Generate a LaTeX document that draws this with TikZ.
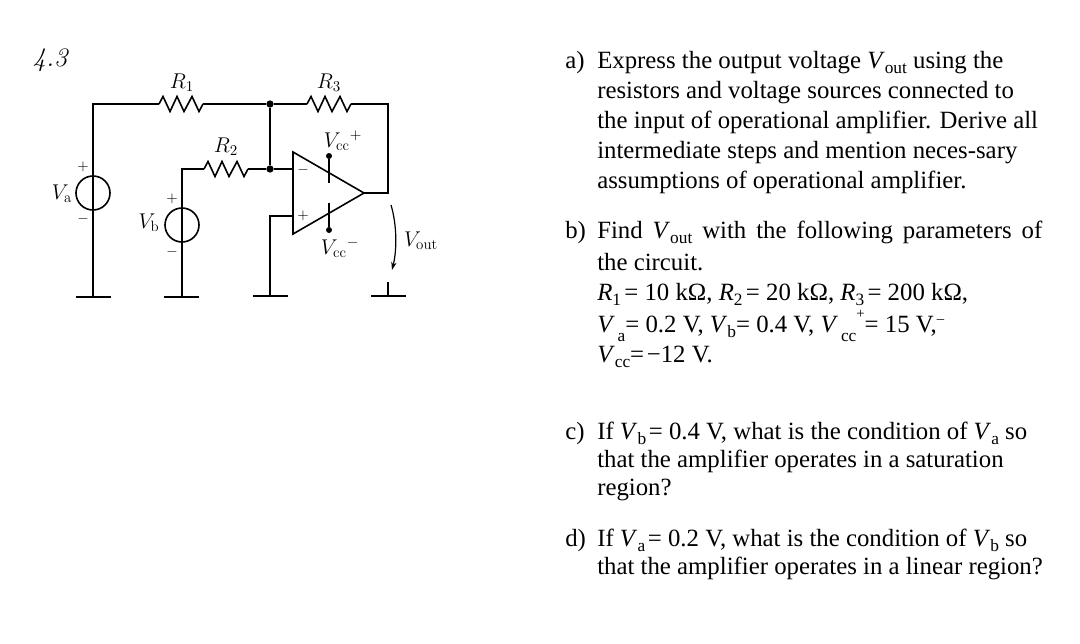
\documentclass[tikz,border=0pt]{standalone}
\usepackage{fix-cm}
\usepackage{fontspec}
\newfontfamily\rtfont{Liberation Serif}
\usetikzlibrary{arrows.meta}
\tikzset{
  x=0.75pt,y=-0.75pt,
  wire/.style={line width=1.2pt,line join=miter},
  lab/.style={inner sep=0pt,font=\fontsize{16}{19}\selectfont},
  small/.style={inner sep=0pt,font=\fontsize{11}{13}\selectfont},
  txt/.style={inner sep=0pt,anchor=base west,font=\rtfont\fontsize{18.6}{22}\selectfont},
  dot/.style={circle,fill=black,inner sep=0pt,minimum size=5.5pt},
  src/.style={circle,draw,line width=1.2pt,inner sep=0pt,minimum size=25.5pt},
  pics/zz/.style={code={\draw[wire] (0,0) -- (4,-7.5) -- (11,7.5) -- (18,-7.5) -- (25,7.5) -- (33,-7.5) -- (40,7.5) -- (44,0);}}
}
\newcommand{\Vs}[1]{\textit{V}\raisebox{-0.22em}{\fontsize{13}{13}\selectfont #1}}
\newcommand{\Rs}[1]{\textit{R}\raisebox{-0.22em}{\fontsize{13}{13}\selectfont #1}\kern2.5pt}
\newcommand{\Vl}[1]{\textit{V}\raisebox{-0.38em}{\fontsize{13}{13}\selectfont\,#1}}
\begin{document}
\begin{tikzpicture}
\useasboundingbox (0,0) rectangle (1080,643);
\fill[white] (0,0) rectangle (1080,643);
\node[inner sep=0pt,font=\itshape\fontsize{20}{22}\selectfont] (title) at (50,60) {4.3};
% junctions and corners
\coordinate (tl) at (93,104);
\coordinate (r1a) at (159,104); \coordinate (r1b) at (203,104);
\node[dot] (j1) at (270,104) {};
\node[dot] (j2) at (270,169) {};
\coordinate (r3a) at (307,104); \coordinate (r3b) at (351,104);
\coordinate (tr) at (388,104); \coordinate (out) at (388,193);
\coordinate (r2a) at (204,169); \coordinate (r2b) at (248,169);
\coordinate (bc) at (182,169);
\coordinate (minus) at (293,169); \coordinate (plus) at (293,216);
\coordinate (pc) at (270,216);
\coordinate (oa1) at (293,152); \coordinate (oa2) at (293,234); \coordinate (oa3) at (364,193);
% grounds
\coordinate (g1) at (93,297); \coordinate (g1a) at (76,297); \coordinate (g1b) at (111,297);
\coordinate (g2) at (182,297); \coordinate (g2a) at (164,297); \coordinate (g2b) at (199,297);
\coordinate (g3) at (270,296); \coordinate (g3a) at (253,296); \coordinate (g3b) at (288,296);
\coordinate (g4) at (388,296); \coordinate (g4a) at (371,296); \coordinate (g4b) at (406,296);
\coordinate (g4t) at (388,282);
% sources
\node[src] (va) at (93,193) {};
\node[src] (vb) at (182,225) {};
% wires
\draw[wire] (g1) -- (tl) -- (r1a);
\draw[wire] (r1b) -- (j1) -- (r3a);
\draw[wire] (r3b) -- (tr) -- (out) -- (oa3);
\draw[wire] (j1) -- (j2);
\draw[wire] (g2) -- (bc) -- (r2a);
\draw[wire] (r2b) -- (j2) -- (minus);
\draw[wire] (g3) -- (pc) -- (plus);
\draw[wire] (g1a) -- (g1b);
\draw[wire] (g2a) -- (g2b);
\draw[wire] (g3a) -- (g3b);
\draw[wire] (g4a) -- (g4b);
\draw[wire] (g4t) -- (g4);
\pic at (r1a) {zz};
\pic at (r3a) {zz};
\pic at (r2a) {zz};
% op-amp
\draw[wire] (oa1) -- (oa2) -- (oa3) -- cycle;
\node[dot,minimum size=4.5pt] (vp) at (329,156) {};
\node[dot,minimum size=4.5pt] (vn) at (329,230) {};
\coordinate (vpe) at (329,183); \coordinate (vne) at (329,203);
\draw[wire] (vp) -- (vpe);
\draw[wire] (vn) -- (vne);
\node[small] (oam) at (303,170) {$-$};
\node[small] (oap) at (303,216) {$+$};
% labels
\node[lab] (l1) at (182,83) {$R_1$};
\node[lab] (l2) at (226,147) {$R_2$};
\node[lab] (l3) at (329,83) {$R_3$};
\node[lab] (la) at (62,194) {$V_{\mathrm{a}}$};
\node[lab] (lb) at (149,223) {$V_{\mathrm{b}}$};
\node[small] (ap) at (83,167) {$+$};
\node[small] (am) at (83,219) {$-$};
\node[small] (bp) at (172,199) {$+$};
\node[small] (bm) at (172,252) {$-$};
\node[lab] (lvp) at (343,141) {$V_{\mathrm{cc}}{}^{+}$};
\node[lab] (lvn) at (340,248) {$V_{\mathrm{cc}}{}^{-}$};
\node[lab] (lout) at (421,241) {$V_{\mathrm{out}}$};
\coordinate (ar1) at (391,205); \coordinate (ar2) at (392,270);
\draw[line width=0.9pt,-{Stealth[length=6pt,width=4pt]}] (ar1) .. controls (397,225) and (397,250) .. (ar2);
% right text
\node[txt] (a0) at (565,68) {a)};
\node[txt] (a1) at (597,68) {Express the output voltage \Vs{out} using the};
\node[txt] (a2) at (597,98) {resistors and voltage sources connected to};
\node[txt] (a3) at (597,128) {the input of operational amplifier. Derive all};
\node[txt] (a4) at (597,158) {intermediate steps and mention neces-sary};
\node[txt] (a5) at (597,188) {assumptions of operational amplifier.};
\node[txt] (b0) at (565,238) {b)};
\node[txt] (b1) at (597,238) {\makebox[333.75pt][s]{Find \Vs{out} with the following parameters of}};
\node[txt] (b2) at (597,270) {the circuit.};
\node[txt] (b3) at (597,300) {\Rs{1}= 10 kΩ, \Rs{2}= 20 kΩ, \Rs{3}= 200 kΩ,};
\node[txt] (b4) at (597,332) {\Vl{a}= 0.2 V, \Vs{b}= 0.4 V, \Vl{cc}\raisebox{0.55em}{\fontsize{11}{11}\selectfont +}= 15 V,\raisebox{0.35em}{\fontsize{11}{11}\selectfont –}};
\node[txt] (b5) at (597,362) {\Vs{cc}=\kern2pt −12 V.};
\node[txt] (c0) at (565,439) {c)};
\node[txt] (c1) at (597,439) {If \Vs{b}\kern2pt= 0.4 V, what is the condition of \Vs{a} so};
\node[txt] (c2) at (597,467) {that the amplifier operates in a saturation};
\node[txt] (c3) at (597,495) {region?};
\node[txt] (d0) at (565,546) {d)};
\node[txt] (d1) at (597,546) {If \Vs{a}\kern2pt= 0.2 V, what is the condition of \Vs{b} so};
\node[txt] (d2) at (597,574) {that the amplifier operates in a linear region?};
\end{tikzpicture}
\end{document}
